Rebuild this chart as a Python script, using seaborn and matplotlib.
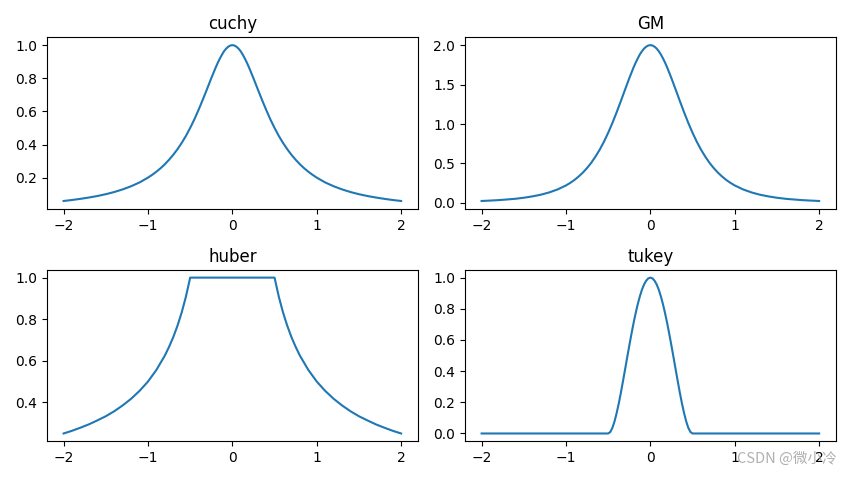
import matplotlib
matplotlib.use("Agg")
import matplotlib.pyplot as plt
import seaborn as sns

# values
x_smooth = [-2.0, -1.9, -1.8, -1.7, -1.6, -1.5, -1.4, -1.3, -1.2, -1.1, -1.0,
            -0.95, -0.9, -0.85, -0.8, -0.75, -0.7, -0.65, -0.6, -0.55, -0.5,
            -0.45, -0.4, -0.35, -0.3, -0.25, -0.2, -0.175, -0.15, -0.125, -0.1,
            -0.075, -0.05, -0.025, 0.0,
            0.025, 0.05, 0.075, 0.1, 0.125, 0.15, 0.175, 0.2, 0.25, 0.3, 0.35, 0.4, 0.45, 0.5,
            0.55, 0.6, 0.65, 0.7, 0.75, 0.8, 0.85, 0.9, 0.95, 1.0,
            1.1, 1.2, 1.3, 1.4, 1.5, 1.6, 1.7, 1.8, 1.9, 2.0]

cuchy = [0.059, 0.065, 0.072, 0.080, 0.089, 0.100, 0.113, 0.129, 0.148, 0.171, 0.200,
         0.217, 0.236, 0.257, 0.281, 0.308, 0.338, 0.372, 0.410, 0.452, 0.500,
         0.552, 0.610, 0.671, 0.735, 0.800, 0.862, 0.891, 0.917, 0.941, 0.962,
         0.978, 0.990, 0.9975, 1.000,
         0.9975, 0.990, 0.978, 0.962, 0.941, 0.917, 0.891, 0.862, 0.800, 0.735, 0.671, 0.610, 0.552, 0.500,
         0.452, 0.410, 0.372, 0.338, 0.308, 0.281, 0.257, 0.236, 0.217, 0.200,
         0.171, 0.148, 0.129, 0.113, 0.100, 0.089, 0.080, 0.072, 0.065, 0.059]

gm = [0.025, 0.030, 0.036, 0.044, 0.053, 0.066, 0.083, 0.104, 0.133, 0.171, 0.222,
      0.254, 0.291, 0.335, 0.385, 0.443, 0.510, 0.588, 0.676, 0.776, 0.889,
      1.013, 1.148, 1.290, 1.436, 1.580, 1.715, 1.776, 1.831, 1.881, 1.922,
      1.956, 1.980, 1.995, 2.000,
      1.995, 1.980, 1.956, 1.922, 1.881, 1.831, 1.776, 1.715, 1.580, 1.436, 1.290, 1.148, 1.013, 0.889,
      0.776, 0.676, 0.588, 0.510, 0.443, 0.385, 0.335, 0.291, 0.254, 0.222,
      0.171, 0.133, 0.104, 0.083, 0.066, 0.053, 0.044, 0.036, 0.030, 0.025]

x_huber = [-2.0, -1.9, -1.8, -1.7, -1.6, -1.5, -1.4, -1.3, -1.2, -1.1, -1.0,
           -0.9, -0.8, -0.75, -0.7, -0.65, -0.6, -0.55, -0.5,
           0.5, 0.55, 0.6, 0.65, 0.7, 0.75, 0.8, 0.9,
           1.0, 1.1, 1.2, 1.3, 1.4, 1.5, 1.6, 1.7, 1.8, 1.9, 2.0]
huber = [0.250, 0.263, 0.278, 0.294, 0.313, 0.333, 0.357, 0.385, 0.417, 0.455, 0.500,
         0.556, 0.625, 0.667, 0.714, 0.769, 0.833, 0.909, 1.000,
         1.000, 0.909, 0.833, 0.769, 0.714, 0.667, 0.625, 0.556,
         0.500, 0.455, 0.417, 0.385, 0.357, 0.333, 0.313, 0.294, 0.278, 0.263, 0.250]

x_tukey = [-2.0, -0.5, -0.475, -0.45, -0.425, -0.4, -0.375, -0.35, -0.325, -0.3, -0.275,
           -0.25, -0.225, -0.2, -0.175, -0.15, -0.125, -0.1, -0.075, -0.05, -0.025, 0.0,
           0.025, 0.05, 0.075, 0.1, 0.125, 0.15, 0.175, 0.2, 0.225, 0.25,
           0.275, 0.3, 0.325, 0.35, 0.375, 0.4, 0.425, 0.45, 0.475, 0.5, 2.0]
tukey = [0.0, 0.0, 0.0095, 0.036, 0.077, 0.130, 0.191, 0.260, 0.334, 0.410, 0.487,
         0.563, 0.636, 0.706, 0.770, 0.828, 0.879, 0.922, 0.956, 0.980, 0.995, 1.000,
         0.995, 0.980, 0.956, 0.922, 0.879, 0.828, 0.770, 0.706, 0.636, 0.563,
         0.487, 0.410, 0.334, 0.260, 0.191, 0.130, 0.077, 0.036, 0.0095, 0.0, 0.0]

panels = [
    ("cuchy", x_smooth, cuchy),
    ("GM", x_smooth, gm),
    ("huber", x_huber, huber),
    ("tukey", x_tukey, tukey),
]

fig, axes = plt.subplots(2, 2, figsize=(8.51, 4.8), dpi=100)
for ax, (title, xs, ys) in zip(axes.flat, panels):
    sns.lineplot(x=xs, y=ys, ax=ax, color="#1f77b4")
    ax.set_title(title)
    ax.set_xticks([-2, -1, 0, 1, 2])

plt.tight_layout()
fig.text(0.983, 0.03, "CSDN @微小冷", ha="right", va="bottom", fontsize=10.5,
         color="#b0b0b0", family=["Noto Sans CJK SC", "DejaVu Sans"])
fig.savefig("out.png", dpi=100)
